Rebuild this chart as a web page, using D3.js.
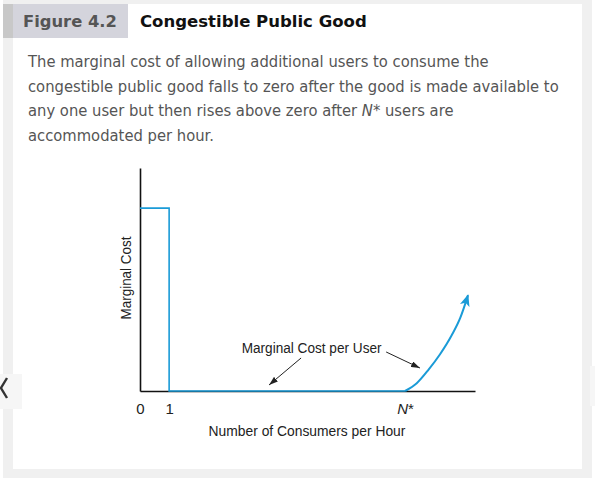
<!DOCTYPE html>
<html><head><meta charset="utf-8">
<script src="https://cdn.jsdelivr.net/npm/d3@7"></script>
<style>
html,body{margin:0;padding:0;background:#fff;}
svg{display:block;}
</style></head><body>
<svg id="c" width="595" height="478"></svg>
<script>
// ---- content / data ----
const figureNumber = "Figure 4.2";
const figureTitle = "Congestible Public Good";
const captionLines = [
  [{t:"The marginal cost of allowing additional users to consume the"}],
  [{t:"congestible public good falls to zero after the good is made available to"}],
  [{t:"any one user but then rises above zero after "},{t:"N",italic:true},{t:"* users are"}],
  [{t:"accommodated per hour."}]
];
const NSTAR = 9.1;
const xTickValues = [0, 1, NSTAR];
const xTickLabels = ["0", "1", "N*"];
const xLabel = "Number of Consumers per Hour";
const yLabel = "Marginal Cost";
// marginal cost per user: step part (first user costly, then zero until N*)
const stepX = [0, 1, 1, NSTAR];
const stepY = [8.2, 8.2, 0, 0];
// rising part after N*
const curveX = [NSTAR, 9.5, 9.9, 10.3, 10.7, 11.0, 11.26];
const curveY = [0, 0.35, 0.95, 1.65, 2.5, 3.3, 4.3];
const annotationText = "Marginal Cost per User";

// ---- layout ----
const svg = d3.select("#c");
const blue = "#1a9bd7";
const chartFont = "'Liberation Sans','Arial',sans-serif";
const textFont = "'DejaVu Sans','Verdana',sans-serif";

// horizontally condense a text to a target width (keeps glyph height)
function squeeze(sel, w, extra){
  const L = sel.node().getComputedTextLength();
  const s = w / L;
  const x = +sel.attr("x") || 0, y = +sel.attr("y") || 0;
  sel.attr("x",0).attr("y",0)
     .attr("transform",`translate(${x},${y})${extra||""} scale(${s},1)`);
  return s;
}

svg.append("rect").attr("width",595).attr("height",478).attr("fill","#fff");
svg.append("rect").attr("x",3).attr("y",0).attr("width",589).attr("height",478).attr("fill","#f0f0f0");
svg.append("rect").attr("x",13).attr("y",4).attr("width",569).attr("height",465).attr("fill","#fff");
svg.append("rect").attr("x",3).attr("y",4).attr("width",10).attr("height",34).attr("fill","#c8c8c8");
svg.append("rect").attr("x",13).attr("y",4).attr("width",115).attr("height",34).attr("fill","#d4d4dc");
// carousel controls
svg.append("rect").attr("x",0).attr("y",374).attr("width",22).attr("height",35).attr("fill","#f6f6f6");
svg.append("polyline").attr("points","7,378 1,388 7,398").attr("fill","none").attr("stroke","#333").attr("stroke-width",2.4);
svg.append("rect").attr("x",590).attr("y",366).attr("width",5).attr("height",40).attr("fill","#f6f6f6");

// header
const fn = svg.append("text").attr("x",23).attr("y",27).attr("font-family",textFont)
  .attr("font-weight","bold").attr("font-size",16.5).attr("fill","#555").text(figureNumber);
squeeze(fn, 94);
const ft = svg.append("text").attr("x",140).attr("y",27).attr("font-family",textFont)
  .attr("font-weight","bold").attr("font-size",16.5).attr("fill","#111").text(figureTitle);
squeeze(ft, 227);

// caption
const capBase = [67, 91.7, 116.4, 141];
const capTexts = captionLines.map((segs,i)=>{
  const t = svg.append("text").attr("x",28).attr("y",capBase[i]).attr("font-family",textFont)
    .attr("font-size",16.5).attr("fill","#555");
  segs.forEach(s=>t.append("tspan").attr("font-style", s.italic?"italic":null).text(s.t));
  return t;
});
const capScale = 531 / capTexts[1].node().getComputedTextLength();
capTexts.forEach(t=>squeeze(t, t.node().getComputedTextLength()*capScale));

// chart
const x = d3.scaleLinear().domain([0, 11.5]).range([140, 475]);
const y = d3.scaleLinear().domain([0, 10]).range([391, 168]);

const defs = svg.append("defs");
defs.append("marker").attr("id","blueHead").attr("markerUnits","userSpaceOnUse")
  .attr("viewBox","0 0 12 10").attr("refX",11).attr("refY",5).attr("markerWidth",12).attr("markerHeight",10)
  .attr("orient","auto")
  .append("path").attr("d","M0,0 L12,5 L0,10 L3,5 Z").attr("fill",blue);
defs.append("marker").attr("id","blackHead").attr("markerUnits","userSpaceOnUse")
  .attr("viewBox","0 0 9 6").attr("refX",9).attr("refY",3).attr("markerWidth",9).attr("markerHeight",6)
  .attr("orient","auto")
  .append("path").attr("d","M0,0 L9,3 L0,6 Z").attr("fill","#222");

const xAxis = d3.axisBottom(x).tickValues(xTickValues)
  .tickFormat((d,i)=>xTickLabels[i]).tickSize(0).tickSizeOuter(0).tickPadding(12);
const gx = svg.append("g").attr("transform","translate(0,391)").call(xAxis);
gx.select(".domain").attr("stroke","#111").attr("stroke-width",1.6);
gx.selectAll("text").attr("font-family",chartFont).attr("font-size",15).attr("fill","#222")
  .each(function(d,i){
    const lab = xTickLabels[i];
    if (lab.startsWith("N")) {
      const s = d3.select(this).text(null);
      s.append("tspan").attr("font-style","italic").text("N");
      s.append("tspan").text(lab.slice(1));
    }
  });

const yAxis = d3.axisLeft(y).tickValues([]).tickSizeOuter(0);
const gy = svg.append("g").attr("transform","translate(140,0)").call(yAxis);
gy.select(".domain").attr("stroke","#111").attr("stroke-width",1.6);

const line = d3.line().x(d=>x(d[0])).y(d=>y(d[1]));
svg.append("path").datum(stepX.map((v,i)=>[v,stepY[i]]))
  .attr("d", line).attr("fill","none").attr("stroke",blue).attr("stroke-width",1.6);
svg.append("path").datum(curveX.map((v,i)=>[v,curveY[i]]))
  .attr("d", line.curve(d3.curveMonotoneX)).attr("fill","none").attr("stroke",blue)
  .attr("stroke-width",2).attr("marker-end","url(#blueHead)");

// annotation
const an = svg.append("text").attr("x",x(3.49)).attr("y",y(1.7)).attr("font-family",chartFont)
  .attr("font-size",15).attr("fill","#222").text(annotationText);
squeeze(an, 140);
const arrows = [[5.53,1.48,4.43,0.27],[8.45,1.75,9.61,1.03]];
svg.selectAll(".ann").data(arrows).enter().append("line")
  .attr("x1",d=>x(d[0])).attr("y1",d=>y(d[1])).attr("x2",d=>x(d[2])).attr("y2",d=>y(d[3]))
  .attr("stroke","#222").attr("stroke-width",1).attr("marker-end","url(#blackHead)");

// axis titles
const xl = svg.append("text").attr("x",307).attr("y",436).attr("text-anchor","middle")
  .attr("font-family",chartFont).attr("font-size",15).attr("fill","#222").text(xLabel);
squeeze(xl, 197);
const yl = svg.append("text").attr("x",131).attr("y",278).attr("text-anchor","middle")
  .attr("font-family",chartFont).attr("font-size",14.5).attr("fill","#222").text(yLabel);
squeeze(yl, 83, " rotate(-90)");
</script>
</body></html>
